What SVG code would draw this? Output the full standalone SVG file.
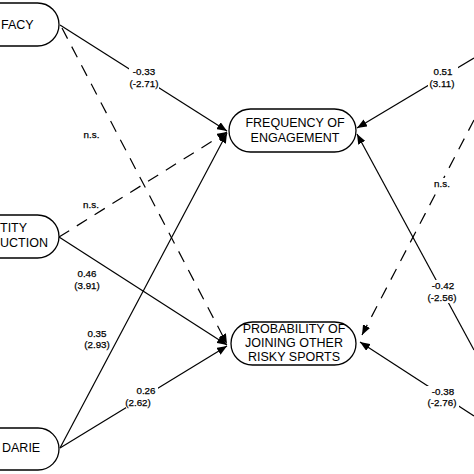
<svg xmlns="http://www.w3.org/2000/svg" width="474" height="474" viewBox="0 0 474 474">
<style>
.node{fill:#fff;stroke:#000;stroke-width:1.3}
.nt{font-family:"Liberation Sans",Arial,sans-serif;font-size:12.5px;fill:#000}
.c{text-anchor:middle}
.e{text-anchor:end}
.lk{fill:none;stroke:#000;stroke-width:1.2}
.d{stroke-dasharray:12 9}
.lb{font-family:"Liberation Sans",Arial,sans-serif;font-size:9.8px;fill:#000;stroke:#000;stroke-width:0.25;text-anchor:middle}
.bg{fill:#fff}
</style>
<defs>
<marker id="ah" markerUnits="userSpaceOnUse" markerWidth="10" markerHeight="8" refX="10" refY="4" orient="auto">
<path d="M0,0 L10,4 L0,8 z" fill="#000"/>
</marker>
</defs>
<rect width="474" height="474" fill="#fff"/>
<g id="connectors">
<line class="lk" x1="60" y1="25" x2="227" y2="131" marker-end="url(#ah)"/>
<line class="lk d" x1="62" y1="28" x2="227" y2="344" marker-end="url(#ah)"/>
<line class="lk d" x1="59" y1="237" x2="227" y2="132" marker-end="url(#ah)"/>
<line class="lk" x1="59" y1="237" x2="227" y2="345" marker-end="url(#ah)"/>
<line class="lk" x1="60" y1="448" x2="227" y2="133" marker-end="url(#ah)"/>
<line class="lk" x1="60" y1="448" x2="227" y2="346" marker-end="url(#ah)"/>
<line class="lk" x1="474" y1="58" x2="357" y2="128" marker-end="url(#ah)"/>
<line class="lk" x1="474" y1="350" x2="357" y2="134" marker-end="url(#ah)"/>
<line class="lk d" x1="474" y1="120" x2="362" y2="335" marker-end="url(#ah)"/>
<line class="lk" x1="474" y1="416" x2="360" y2="342" marker-end="url(#ah)"/>
</g>
<g id="labels">
<rect class="bg" x="129" y="66" width="30" height="23"/>
<text class="lb" x="144" y="75">-0.33</text>
<text class="lb" x="144" y="87">(-2.71)</text>
<text class="lb" x="91.5" y="138">n.s.</text>
<text class="lb" x="91" y="208">n.s.</text>
<text class="lb" x="87" y="277">0.46</text>
<text class="lb" x="87" y="289">(3.91)</text>
<text class="lb" x="97" y="337">0.35</text>
<text class="lb" x="97" y="348">(2.93)</text>
<rect class="bg" x="126" y="385" width="32" height="23"/>
<text class="lb" x="146" y="394">0.26</text>
<text class="lb" x="138" y="406">(2.62)</text>
<rect class="bg" x="428" y="66" width="30" height="23"/>
<text class="lb" x="443" y="75">0.51</text>
<text class="lb" x="442" y="87">(3.11)</text>
<rect class="bg" x="432" y="178" width="20" height="11"/>
<text class="lb" x="442" y="187">n.s.</text>
<rect class="bg" x="426" y="280" width="33" height="23"/>
<text class="lb" x="443" y="289">-0.42</text>
<text class="lb" x="442" y="301">(-2.56)</text>
<rect class="bg" x="426" y="386" width="33" height="22"/>
<text class="lb" x="443" y="395">-0.38</text>
<text class="lb" x="442" y="406">(-2.76)</text>
</g>
<g id="node-efficacy">
<rect class="node" x="-60" y="3" width="119" height="43" rx="21.5"/>
<text class="nt" x="1" y="29">FACY</text>
</g>
<g id="node-identity">
<rect class="node" x="-60" y="215" width="119" height="43" rx="21.5"/>
<text class="nt" x="0" y="232">TITY</text>
<text class="nt" x="0" y="247">UCTION</text>
</g>
<g id="node-solidarie">
<rect class="node" x="-60" y="428" width="119" height="42" rx="21"/>
<text class="nt" x="2" y="452">DARIE</text>
</g>
<g id="node-frequency">
<rect class="node" x="229" y="109" width="127" height="43" rx="21.5"/>
<text class="nt c" x="295" y="127">FREQUENCY OF</text>
<text class="nt c" x="295" y="142">ENGAGEMENT</text>
</g>
<g id="node-probability">
<rect class="node" x="231" y="322" width="125" height="43" rx="21.5"/>
<text class="nt c" x="294" y="333">PROBABILITY OF</text>
<text class="nt c" x="294" y="347">JOINING OTHER</text>
<text class="nt c" x="294" y="361">RISKY SPORTS</text>
</g>
</svg>
